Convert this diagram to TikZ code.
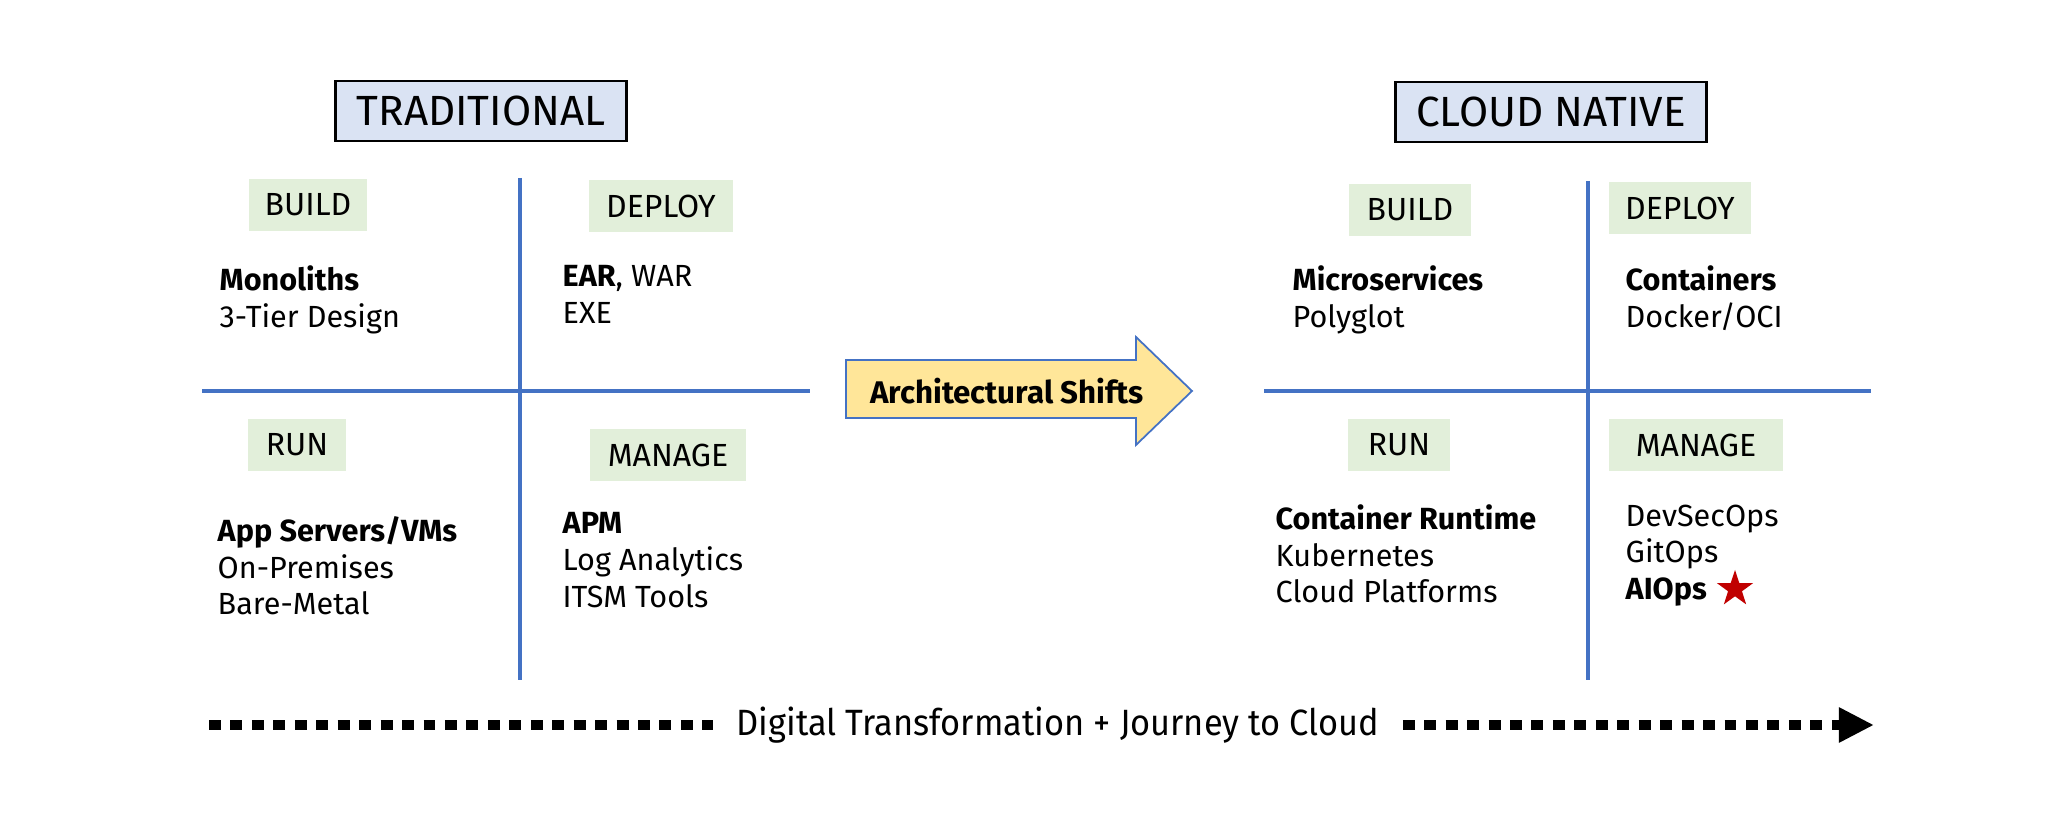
\documentclass[tikz,border=0pt]{standalone}
\usepackage{fontspec}
\setmainfont{Fira Sans}
\usetikzlibrary{arrows.meta,shapes.geometric}
\definecolor{quadblue}{HTML}{4472C4}
\definecolor{tagfill}{HTML}{E2EFDA}
\definecolor{titlefill}{HTML}{DAE3F3}
\definecolor{shiftfill}{HTML}{FFE699}
\definecolor{starred}{HTML}{C00000}

\begin{document}
\begin{tikzpicture}[x=0.01cm,y=-0.01cm,
  title/.style={draw=black,line width=0.7pt,fill=titlefill,minimum height=0.6cm,font=\fontsize{12}{14}\selectfont},
  tag/.style={fill=tagfill,minimum height=0.51cm,font=\fontsize{9.1}{11}\selectfont},
  items/.style={anchor=north west,align=left,inner sep=0pt,font=\fontsize{8.7}{10.4}\selectfont},
  quad/.style={quadblue,line width=1.2pt},
  journeyline/.style={line width=3.1pt,dash pattern=on 3.4pt off 2.7pt}]
\useasboundingbox (0,0) rectangle (2048,840);

\node[title,minimum width=2.91cm] (trad) at (481,111) {TRADITIONAL};
\node[title,minimum width=3.11cm] (cloud) at (1551,112) {CLOUD NATIVE};

\draw[quad] (520,178) -- (520,680);
\draw[quad] (202,391) -- (810,391);
\draw[quad] (1588,181) -- (1588,680);
\draw[quad] (1264,391) -- (1871,391);

\node[tag,minimum width=1.18cm] (tbuild) at (308,205) {BUILD};
\node[tag,minimum width=1.43cm] (tdeploy) at (661,206) {DEPLOY};
\node[tag,minimum width=0.97cm] (trun) at (297,445) {RUN};
\node[tag,minimum width=1.56cm] (tmanage) at (668,455) {MANAGE};
\node[tag,minimum width=1.22cm] (cbuild) at (1410,210) {BUILD};
\node[tag,minimum width=1.42cm] (cdeploy) at (1680,208) {DEPLOY};
\node[tag,minimum width=1.01cm] (crun) at (1399,445) {RUN};
\node[tag,minimum width=1.74cm] (cmanage) at (1696,445) {MANAGE};

\node[items] (mono) at (219,265) {\textbf{Monoliths}\\3-Tier Design};
\node[items] (ear) at (562,265) {\textbf{EAR}, WAR\\EXE};
\node[items] (appsrv) at (217,516) {\textbf{App Servers/VMs}\\On-Premises\\Bare-Metal};
\node[items] (apm) at (562,512) {\textbf{APM}\\Log Analytics\\ITSM Tools};
\node[items] (micro) at (1292,265) {\textbf{Microservices}\\Polyglot};
\node[items] (contain) at (1625,265) {\textbf{Containers}\\Docker/OCI};
\node[items] (runtime) at (1275,504) {\textbf{Container Runtime}\\Kubernetes\\Cloud Platforms};
\node[items] (devsec) at (1625,504) {DevSecOps\\GitOps\\\textbf{AIOps}};
\node[star,star points=5,star point ratio=2.6,fill=starred,inner sep=0pt,minimum size=0.38cm] (aistar) at (1735,589) {};

\draw[draw=quadblue,line width=0.5pt,fill=shiftfill] (846,360) -- (1136,360) -- (1136,337) -- (1192,391) -- (1136,445) -- (1136,418) -- (846,418) -- cycle;
\node[font=\fontsize{8.9}{11}\selectfont\bfseries] (shift) at (1007,391) {Architectural Shifts};

\node[font=\fontsize{10.4}{12}\selectfont,inner xsep=6.5pt] (journey) at (1058,725) {\scalebox{0.94}[1]{Digital Transformation + Journey to Cloud}};
\coordinate (jstart) at (209,725);
\coordinate (jend) at (1874,725);
\draw[journeyline] (jstart) -- (journey.west);
\draw[journeyline,-{Triangle[length=10pt,width=9.4pt]}] (journey.east) -- (jend);
\end{tikzpicture}
\end{document}
